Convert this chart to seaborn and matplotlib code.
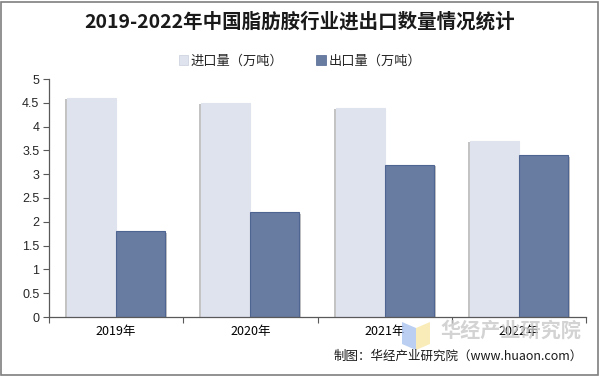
import matplotlib
matplotlib.use("Agg")
import matplotlib.pyplot as plt
import seaborn as sns
import pandas as pd
from matplotlib.patches import Rectangle, Polygon
from matplotlib.ticker import FixedLocator, NullFormatter
import matplotlib.patheffects as pe

years = ["2019年", "2020年", "2021年", "2022年"]
imports = [4.6, 4.5, 4.4, 3.7]
exports = [1.8, 2.2, 3.2, 3.4]
series_names = ["进口量（万吨）", "出口量（万吨）"]
colors = ["#DFE3EE", "#687BA1"]

df = pd.DataFrame({
    "year": years * 2,
    "value": imports + exports,
    "series": [series_names[0]] * 4 + [series_names[1]] * 4,
})

sns.set_theme(style="white")
plt.rcParams['font.family'] = ['Noto Sans CJK SC', 'DejaVu Sans']

fig = plt.figure(figsize=(6, 3.76), dpi=100)
ax = fig.add_axes([49/600, 59/376, 537/600, 238/376])

sns.barplot(data=df, x="year", y="value", hue="series", palette=colors,
            width=0.73, ax=ax, legend=False, saturation=1)

edge = {0: "#DFE3EE", 1: "#4F6591"}
for i, cont in enumerate(ax.containers):
    for p in cont:
        p.set_edgecolor(edge[i])
        p.set_linewidth(0.8)
        off = (-1.5, -1) if i == 0 else (1.5, -1)
        p.set_path_effects([pe.SimplePatchShadow(offset=off, shadow_rgbFace="#888888", alpha=0.5), pe.Normal()])

ax.set_ylim(0, 5)
ax.set_xlim(-0.5, 3.5)
ax.set_yticks([0, 0.5, 1, 1.5, 2, 2.5, 3, 3.5, 4, 4.5, 5])
ax.set_yticklabels(["0", "0.5", "1", "1.5", "2", "2.5", "3", "3.5", "4", "4.5", "5"])
ax.set_xlabel("")
ax.set_ylabel("")
ax.xaxis.set_minor_locator(FixedLocator([-0.5, 0.5, 1.5, 2.5, 3.5]))
ax.xaxis.set_minor_formatter(NullFormatter())
ax.tick_params(axis="x", which="major", length=0, labelsize=9, colors="#000000", pad=6)
ax.tick_params(axis="x", which="minor", length=4, width=0.8, color="#595959", bottom=True)
ax.tick_params(axis="y", which="major", length=4, width=0.8, color="#595959", labelsize=9, left=True, pad=3)
for t in ax.get_yticklabels():
    t.set_family(['Liberation Sans', 'DejaVu Sans'])
for s in ["top", "right"]:
    ax.spines[s].set_visible(False)
for s in ["left", "bottom"]:
    ax.spines[s].set_color("#595959")
    ax.spines[s].set_linewidth(0.9)

fig.text(0.5, 1 - 22/376, "2019-2022年中国脂肪胺行业进出口数量情况统计", ha="center", va="center",
         fontsize=14, fontweight="bold", color="#1a1a1a")

# legend
handles = [Rectangle((0, 0), 1, 1, facecolor=colors[0], edgecolor="#C8CEDC", linewidth=0.5),
           Rectangle((0, 0), 1, 1, facecolor=colors[1], edgecolor="#4F6591", linewidth=0.5)]
fig.legend(handles, series_names, loc="center", bbox_to_anchor=(0.5, 1 - 61/376), ncol=2,
           frameon=False, fontsize=9.5, handlelength=0.7, handleheight=0.7,
           handletextpad=0.2, columnspacing=2.5)

# watermark logo and text
fig.patches.append(Polygon([[402/600, 1-322/376], [416/600, 1-328/376], [416/600, 1-350/376], [402/600, 1-344/376]],
                           closed=True, transform=fig.transFigure, facecolor="#A9C4EE", alpha=0.8, edgecolor="none"))
fig.patches.append(Polygon([[416/600, 1-328/376], [430/600, 1-322/376], [430/600, 1-344/376], [416/600, 1-350/376]],
                           closed=True, transform=fig.transFigure, facecolor="#F8E8A8", alpha=0.8, edgecolor="none"))
fig.text(511/600, 1 - 330/376, "华经产业研究院", ha="center", va="center", fontsize=14.5,
         fontweight="bold", color="#C8C8C8", alpha=0.8)
fig.text(583/600, 1 - 356/376, "制图：华经产业研究院（www.huaon.com）", ha="right", va="center",
         fontsize=9, color="#1a1a1a")

# border
fig.patches.append(Rectangle((1/600, 1/376), 597/600, 373/376, transform=fig.transFigure,
                             fill=False, edgecolor="#7f7f7f", linewidth=1.2))

fig.savefig("out.png", dpi=100)
